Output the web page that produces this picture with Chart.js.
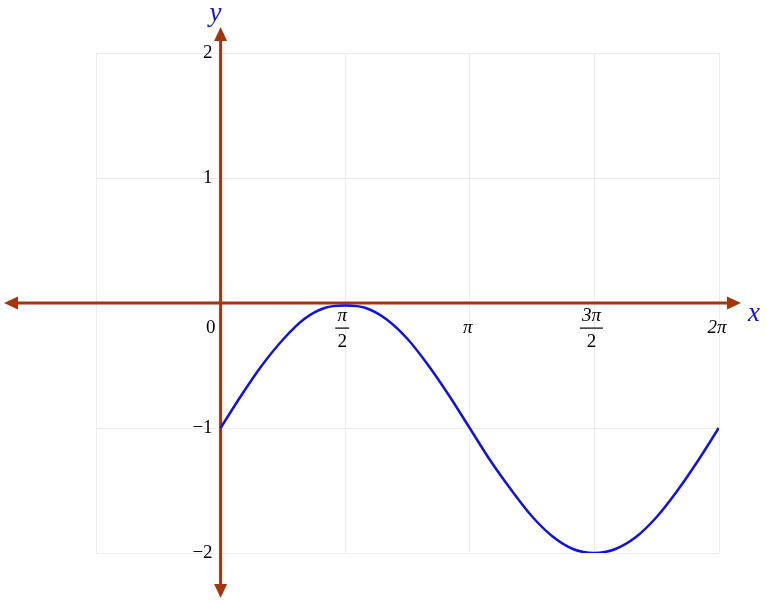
<!DOCTYPE html>
<html>
<head>
<meta charset="utf-8">
<script src="https://cdn.jsdelivr.net/npm/chart.js@4"></script>
<style>
  html, body { margin: 0; padding: 0; background: #fff; }
  #wrap { width: 767px; height: 602px; position: relative; }
</style>
</head>
<body>
<div id="wrap"><canvas id="plot"></canvas></div>
<script>
// curve y = sin(x) - 1
const xValues = [0, 0.26, 0.52, 0.79, 1.05, 1.31, 1.57, 1.83, 2.09, 2.36, 2.62, 2.88, 3.14,
                 3.40, 3.67, 3.93, 4.19, 4.45, 4.71, 4.97, 5.24, 5.50, 5.76, 6.02, 6.28];
const yValues = [-1, -0.74, -0.5, -0.29, -0.13, -0.04, -0.02, -0.04, -0.13, -0.29, -0.5, -0.74, -1,
                 -1.26, -1.5, -1.71, -1.87, -1.97, -2, -1.97, -1.87, -1.71, -1.5, -1.26, -1];

const xTicks = [-1.5708, 0, 1.5708, 3.1416, 4.7124, 6.2832];
const xTickLabels = [null, null, ['π', '2'], 'π', ['3π', '2'], '2π'];
const yTicks = [-2, -1, 0, 1, 2];
const yTickLabels = ['−2', '−1', null, '1', '2'];

const AXIS_COLOR = '#a2360f';
const CURVE_COLOR = '#1212e0';
const SERIF = "'Liberation Serif', 'DejaVu Serif', serif";

function arrow(ctx, tx, ty, dx, dy) {
  // tip at (tx, ty), pointing along (dx, dy)
  const len = 14, half = 6.5;
  const bx = tx - dx * len, by = ty - dy * len;
  ctx.beginPath();
  ctx.moveTo(tx, ty);
  ctx.lineTo(bx - dy * half, by + dx * half);
  ctx.lineTo(bx + dy * half, by - dx * half);
  ctx.closePath();
  ctx.fill();
}

const axesPlugin = {
  id: 'axes',
  beforeDatasetsDraw(chart) {
    const { ctx, scales: { x, y } } = chart;
    const x0 = x.getPixelForValue(0), y0 = y.getPixelForValue(0);
    ctx.save();
    ctx.strokeStyle = AXIS_COLOR;
    ctx.fillStyle = AXIS_COLOR;
    ctx.lineWidth = 3;
    ctx.beginPath();
    ctx.moveTo(12, y0); ctx.lineTo(733, y0);
    ctx.moveTo(x0, 34); ctx.lineTo(x0, 591);
    ctx.stroke();
    arrow(ctx, 4, y0, -1, 0);
    arrow(ctx, 741, y0, 1, 0);
    arrow(ctx, x0, 27, 0, -1);
    arrow(ctx, x0, 598, 0, 1);
    ctx.restore();
  },
  afterDraw(chart) {
    const { ctx, scales: { x, y } } = chart;
    const x0 = x.getPixelForValue(0), y0 = y.getPixelForValue(0);
    ctx.save();
    ctx.fillStyle = '#000';
    ctx.textBaseline = 'middle';
    ctx.font = `19px ${SERIF}`;

    // y tick labels
    ctx.textAlign = 'right';
    yTicks.forEach((v, i) => {
      if (yTickLabels[i]) ctx.fillText(yTickLabels[i], x0 - 8, y.getPixelForValue(v));
    });
    ctx.fillText('0', x0 - 5, y0 + 25);

    // x tick labels
    ctx.textAlign = 'center';
    xTicks.forEach((v, i) => {
      const lab = xTickLabels[i];
      if (!lab) return;
      const px = x.getPixelForValue(v);
      if (Array.isArray(lab)) {
        ctx.font = `italic 19px ${SERIF}`;
        ctx.fillText(lab[0], px - 3, y0 + 13);
        ctx.font = `19px ${SERIF}`;
        ctx.fillText(lab[1], px - 3, y0 + 39);
        const w = Math.max(ctx.measureText(lab[0]).width, 10) + 4;
        ctx.fillRect(px - 3 - w / 2, y0 + 24.5, w, 1.2);
      } else {
        ctx.font = `italic 19px ${SERIF}`;
        ctx.fillText(lab, px - 2, y0 + 25);
      }
    });

    // axis names
    ctx.fillStyle = CURVE_COLOR;
    ctx.font = `italic 27px ${SERIF}`;
    ctx.fillText('y', x0 - 5, 14);
    ctx.fillText('x', 754, y0 + 11);
    ctx.restore();
  }
};

new Chart(document.getElementById('plot'), {
  type: 'scatter',
  data: {
    datasets: [{
      data: xValues.map((v, i) => ({ x: v, y: yValues[i] })),
      showLine: true,
      borderColor: CURVE_COLOR,
      borderWidth: 2.5,
      pointRadius: 0,
      tension: 0.3,
      fill: false
    }]
  },
  options: {
    responsive: true,
    maintainAspectRatio: false,
    animation: false,
    layout: { padding: { left: 96, right: 48, top: 53, bottom: 49 } },
    plugins: { legend: { display: false }, tooltip: { enabled: false } },
    scales: {
      x: {
        type: 'linear',
        min: xTicks[0],
        max: xTicks[xTicks.length - 1],
        afterBuildTicks: s => { s.ticks = xTicks.map(v => ({ value: v })); },
        ticks: { display: false },
        grid: { color: '#ececec', drawTicks: false },
        border: { display: false }
      },
      y: {
        min: yTicks[0],
        max: yTicks[yTicks.length - 1],
        afterBuildTicks: s => { s.ticks = yTicks.map(v => ({ value: v })); },
        ticks: { display: false },
        grid: { color: '#ececec', drawTicks: false },
        border: { display: false }
      }
    }
  },
  plugins: [axesPlugin]
});
</script>
</body>
</html>
